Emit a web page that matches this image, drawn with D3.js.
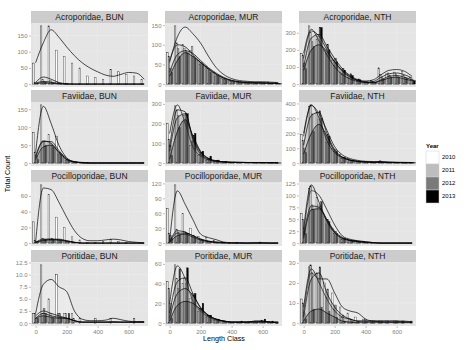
<!DOCTYPE html>
<html>
<head>
<style>
  body { margin: 0; background: #fff; }
  svg { font-family: "Liberation Sans", Arial, sans-serif; }
</style>
</head>
<body>
<svg id="svg" width="474" height="350"></svg>
<script src="https://cdn.jsdelivr.net/npm/d3@7"></script>
<script>
const years = ['2010', '2011', '2012', '2013'];
const yearColors = ['#ffffff', '#bdbdbd', '#7a7a7a', '#000000'];
const families = ['Acroporidae', 'Faviidae', 'Pocilloporidae', 'Poritidae'];
const sites = ['BUN', 'MUR', 'NTH'];
const lengthClass = [0, 50, 100, 150, 200, 250, 300, 350, 400, 450, 500, 550, 600, 650, 700];
const xTicks = [0, 200, 400, 600];

// bar counts per year (2010..2013) and smoothed count curves, one row per year
const acroBUNbars = [
  [65, 180, 180, 105, 85, 65, 50, 25, 20, 15, 45, 38, 30, 25, 15],
  [5, 15, 12, 5, 2, 0, 0, 0, 0, 0, 0, 0, 0, 0, 0],
  [3, 8, 6, 2, 1, 0, 0, 0, 0, 0, 0, 0, 0, 0, 0],
  [2, 4, 3, 1, 0, 0, 0, 0, 0, 0, 0, 0, 0, 0, 0]
];
const acroBUNcurve = [
  [66, 128, 168, 145, 115, 88, 66, 50, 38, 28, 24, 30, 36, 34, 15],
  [5, 22, 15, 5, 1, 0, 0, 0, 0, 0, 0, 0, 0, 0, 0],
  [3, 8, 6, 2, 0, 0, 0, 0, 0, 0, 0, 0, 0, 0, 0],
  [2, 4, 3, 1, 0, 0, 0, 0, 0, 0, 0, 0, 0, 0, 0]
];
const acroMURbars = [
  [80, 148, 100, 85, 60, 45, 30, 15, 8, 5, 5, 3, 3, 5, 3],
  [70, 105, 90, 95, 50, 40, 20, 12, 6, 4, 3, 3, 2, 2, 2],
  [40, 90, 85, 70, 55, 35, 22, 12, 6, 4, 3, 2, 2, 2, 1],
  [30, 70, 80, 65, 50, 30, 20, 10, 5, 3, 2, 2, 1, 1, 1]
];
const acroMURcurve = [
  [55, 120, 145, 128, 104, 71, 42, 24, 14, 9, 7, 6, 6, 5, 4],
  [60, 100, 95, 75, 55, 38, 25, 15, 9, 6, 5, 4, 4, 3, 2],
  [30, 75, 85, 78, 60, 42, 28, 17, 10, 6, 4, 3, 3, 2, 2],
  [20, 60, 80, 70, 55, 40, 25, 15, 8, 5, 3, 3, 2, 2, 1]
];
const acroNTHbars = [
  [180, 340, 260, 200, 140, 70, 40, 25, 15, 20, 95, 60, 70, 75, 40],
  [170, 300, 280, 180, 110, 60, 35, 20, 12, 15, 55, 65, 60, 50, 30],
  [120, 250, 330, 230, 150, 90, 60, 30, 15, 12, 40, 50, 45, 40, 25],
  [90, 220, 330, 200, 130, 80, 50, 25, 10, 8, 30, 40, 40, 35, 20]
];
const acroNTHcurve = [
  [150, 310, 280, 200, 130, 75, 40, 22, 18, 25, 55, 80, 85, 75, 45],
  [180, 320, 250, 170, 100, 55, 30, 15, 10, 15, 40, 60, 65, 55, 35],
  [100, 270, 290, 220, 150, 90, 50, 25, 12, 10, 25, 45, 50, 40, 25],
  [80, 200, 230, 190, 130, 80, 45, 20, 10, 8, 20, 35, 40, 30, 20]
];
const favBUNbars = [
  [85, 162, 80, 75, 20, 5, 2, 1, 0, 0, 0, 0, 0, 0, 0],
  [30, 60, 55, 25, 8, 2, 1, 0, 0, 0, 0, 0, 0, 0, 0],
  [20, 60, 50, 30, 10, 3, 1, 0, 0, 0, 0, 0, 0, 0, 0],
  [10, 50, 45, 25, 8, 2, 1, 0, 0, 0, 0, 0, 0, 0, 0]
];
const favBUNcurve = [
  [30, 158, 110, 50, 15, 4, 2, 1, 1, 1, 1, 1, 1, 1, 1],
  [20, 62, 55, 30, 10, 3, 1, 0, 0, 0, 0, 0, 0, 0, 0],
  [15, 60, 60, 35, 12, 4, 1, 0, 0, 0, 0, 0, 0, 0, 0],
  [10, 45, 50, 30, 10, 3, 1, 0, 0, 0, 0, 0, 0, 0, 0]
];
const favMURbars = [
  [200, 290, 210, 90, 40, 15, 8, 5, 4, 4, 3, 3, 3, 2, 2],
  [120, 270, 240, 110, 45, 20, 10, 6, 4, 3, 3, 3, 2, 2, 1],
  [90, 240, 250, 140, 55, 25, 12, 6, 4, 3, 3, 2, 2, 2, 1],
  [40, 180, 250, 150, 60, 35, 15, 8, 5, 3, 3, 2, 2, 1, 1]
];
const favMURcurve = [
  [150, 295, 200, 80, 35, 15, 8, 5, 4, 4, 3, 3, 3, 2, 2],
  [80, 270, 260, 120, 45, 20, 10, 6, 4, 4, 3, 3, 2, 2, 2],
  [60, 230, 250, 130, 55, 22, 10, 6, 4, 3, 3, 2, 2, 2, 1],
  [20, 160, 220, 140, 60, 25, 12, 6, 4, 3, 3, 2, 2, 2, 1]
];
const favNTHbars = [
  [190, 380, 340, 210, 100, 60, 30, 15, 10, 8, 10, 6, 5, 4, 3],
  [150, 390, 290, 140, 80, 30, 20, 10, 8, 6, 15, 5, 4, 3, 2],
  [100, 330, 350, 190, 90, 40, 20, 12, 8, 6, 6, 4, 3, 3, 2],
  [70, 210, 300, 180, 80, 40, 20, 10, 6, 5, 5, 3, 3, 2, 2]
];
const favNTHcurve = [
  [180, 385, 330, 220, 110, 55, 30, 18, 12, 10, 10, 8, 6, 5, 4],
  [200, 390, 300, 150, 70, 35, 20, 12, 8, 6, 8, 5, 4, 3, 3],
  [120, 320, 340, 200, 90, 40, 20, 12, 8, 6, 6, 4, 3, 3, 2],
  [60, 200, 260, 180, 80, 40, 20, 10, 6, 5, 5, 3, 3, 2, 2]
];
const pocBUNbars = [
  [27, 74, 62, 33, 20, 8, 4, 1, 1, 2, 5, 2, 1, 0, 0],
  [3, 6, 5, 4, 2, 1, 0, 0, 0, 0, 0, 0, 0, 0, 0],
  [2, 5, 6, 4, 2, 1, 0, 0, 0, 0, 0, 0, 0, 0, 0],
  [1, 4, 4, 3, 2, 0, 0, 0, 0, 0, 0, 0, 0, 0, 0]
];
const pocBUNcurve = [
  [2, 70, 68, 52, 33, 16, 6, 3, 3, 4, 5, 4, 2, 1, 0],
  [1, 5, 5, 4, 3, 1, 0, 0, 0, 0, 0, 0, 0, 0, 0],
  [1, 4, 5, 5, 3, 1, 0, 0, 0, 0, 0, 0, 0, 0, 0],
  [1, 3, 4, 4, 2, 1, 0, 0, 0, 0, 0, 0, 0, 0, 0]
];
const pocMURbars = [
  [70, 117, 60, 30, 13, 12, 5, 2, 1, 1, 0, 0, 2, 0, 0],
  [20, 28, 24, 14, 8, 3, 2, 1, 0, 0, 0, 0, 0, 0, 0],
  [15, 22, 22, 15, 8, 3, 2, 1, 0, 0, 0, 0, 0, 0, 0],
  [10, 18, 20, 12, 6, 3, 1, 0, 0, 0, 0, 0, 0, 0, 0]
];
const pocMURcurve = [
  [5, 105, 78, 47, 18, 11, 7, 2, 1, 1, 0, 1, 1, 0, 0],
  [3, 25, 22, 15, 8, 4, 2, 1, 0, 0, 0, 0, 0, 0, 0],
  [2, 20, 20, 15, 8, 4, 2, 1, 0, 0, 0, 0, 0, 0, 0],
  [1, 15, 18, 12, 6, 3, 1, 0, 0, 0, 0, 0, 0, 0, 0]
];
const pocNTHbars = [
  [62, 115, 95, 55, 31, 12, 8, 6, 3, 1, 0, 0, 0, 0, 0],
  [50, 120, 80, 40, 20, 8, 5, 3, 2, 1, 0, 0, 0, 0, 0],
  [30, 80, 78, 50, 25, 10, 5, 3, 1, 0, 0, 0, 0, 0, 0],
  [20, 70, 87, 45, 20, 10, 5, 2, 1, 0, 0, 0, 0, 0, 0]
];
const pocNTHcurve = [
  [20, 110, 100, 70, 38, 15, 8, 5, 3, 1, 0, 0, 0, 0, 0],
  [30, 122, 85, 45, 22, 10, 6, 4, 2, 1, 0, 0, 0, 0, 0],
  [15, 78, 75, 50, 25, 12, 6, 3, 2, 1, 0, 0, 0, 0, 0],
  [10, 70, 72, 48, 22, 10, 5, 3, 1, 0, 0, 0, 0, 0, 0]
];
const porBUNbars = [
  [2, 12, 5, 10, 2, 2, 1, 0, 1, 0, 1, 0, 0, 1, 0],
  [2, 2, 2, 2, 2, 1, 0, 0, 0, 0, 0, 0, 0, 0, 0],
  [1, 3, 1, 2, 1, 0, 0, 0, 0, 0, 0, 0, 0, 0, 0],
  [1, 2, 1, 1, 2, 0, 0, 0, 0, 0, 0, 0, 0, 0, 0]
];
const porBUNcurve = [
  [2, 8, 9, 7.5, 6.5, 2.5, 0.8, 0.5, 0.5, 0.6, 1, 0.7, 0.4, 0.3, 0.3],
  [1.5, 2.5, 2, 1.5, 1, 0.5, 0.2, 0.2, 0.2, 0.2, 0.3, 0.2, 0.2, 0.2, 0.2],
  [1, 2, 1.5, 1.2, 1, 0.5, 0.2, 0.2, 0.2, 0.2, 0.2, 0.2, 0.2, 0.2, 0.2],
  [1, 1.5, 1.2, 1, 1, 0.5, 0.2, 0.2, 0.2, 0.2, 0.2, 0.2, 0.2, 0.2, 0.2]
];
const porMURbars = [
  [42, 59, 40, 25, 12, 6, 3, 2, 1, 1, 1, 1, 2, 1, 1],
  [35, 45, 45, 30, 15, 8, 4, 2, 1, 1, 1, 1, 3, 1, 1],
  [20, 35, 40, 28, 15, 8, 4, 2, 1, 1, 1, 1, 2, 1, 0],
  [5, 55, 56, 30, 20, 8, 4, 2, 1, 2, 1, 1, 4, 2, 0]
];
const porMURcurve = [
  [20, 58, 45, 22, 12, 6, 3, 2, 1, 1, 1, 1, 1, 1, 1],
  [10, 42, 46, 30, 15, 7, 4, 2, 1, 1, 1, 2, 2, 1, 1],
  [5, 30, 35, 28, 16, 8, 4, 2, 1, 1, 1, 1, 1, 1, 0],
  [2, 18, 22, 20, 14, 8, 4, 2, 1, 1, 1, 2, 2, 1, 0]
];
const porNTHbars = [
  [12, 28, 25, 20, 15, 8, 5, 3, 2, 1, 1, 1, 1, 1, 0],
  [10, 29, 22, 13, 7, 3, 2, 1, 2, 1, 1, 1, 1, 1, 1],
  [5, 25, 28, 17, 9, 4, 2, 1, 1, 1, 1, 0, 1, 0, 0],
  [2, 7, 8, 6, 3, 1, 1, 0, 0, 0, 0, 0, 0, 0, 0]
];
const porNTHcurve = [
  [5, 25, 22, 22, 15, 8, 6, 5, 2, 1, 1, 1, 1, 0.5, 0.5],
  [8, 27, 20, 12, 6, 3, 2, 1, 1, 1, 1, 1, 1, 1, 0.5],
  [3, 22, 25, 15, 8, 4, 2, 1, 1, 1, 0.5, 0.5, 0.5, 0.5, 0.5],
  [1, 6, 7, 5, 3, 1, 0.5, 0.2, 0.2, 0.2, 0.2, 0.2, 0.2, 0.2, 0.2]
];

const yTicks = [
  [[0, 50, 100, 150], [0, 50, 100, 150], [0, 100, 200, 300]],
  [[0, 50, 100, 150], [0, 100, 200, 300], [0, 100, 200, 300, 400]],
  [[0, 20, 40, 60], [0, 30, 60, 90, 120], [0, 25, 50, 75, 100, 125]],
  [[0, 2.5, 5, 7.5, 10, 12.5], [0, 20, 40, 60], [0, 10, 20, 30]]
];

const panelBars = [
  [acroBUNbars, acroMURbars, acroNTHbars],
  [favBUNbars, favMURbars, favNTHbars],
  [pocBUNbars, pocMURbars, pocNTHbars],
  [porBUNbars, porMURbars, porNTHbars]
];
const panelCurves = [
  [acroBUNcurve, acroMURcurve, acroNTHcurve],
  [favBUNcurve, favMURcurve, favNTHcurve],
  [pocBUNcurve, pocMURcurve, pocNTHcurve],
  [porBUNcurve, porMURcurve, porNTHcurve]
];

// layout
const colX = [31, 165, 299];
const rowY = [11, 90, 170, 250];
const panelW = 117;
const stripH = 12;
const panelH = 64;
const binW = 50;
const subW = binW / 5;

const svg = d3.select('#svg');
const x = d3.scaleLinear().domain([-30, 725]).range([0, panelW]);

families.forEach((fam, r) => {
  sites.forEach((site, c) => {
    const left = colX[c];
    const top = rowY[r] + stripH;
    const g = svg.append('g').attr('transform', `translate(${left}, 0)`);

    const bars = panelBars[r][c];
    const curves = panelCurves[r][c];
    const maxV = d3.max(bars.concat(curves), (row) => d3.max(row));
    const y = d3.scaleLinear()
      .domain([-0.05 * maxV, 1.05 * maxV])
      .range([top + panelH, top]);

    // strip
    g.append('rect')
      .attr('x', 0).attr('y', rowY[r])
      .attr('width', panelW).attr('height', stripH)
      .attr('fill', '#cccccc');
    g.append('text')
      .attr('x', panelW / 2).attr('y', rowY[r] + stripH / 2 + 0.5)
      .attr('text-anchor', 'middle')
      .attr('dominant-baseline', 'middle')
      .attr('font-size', 8.5)
      .attr('fill', '#1a1a1a')
      .text(`${fam}, ${site}`);

    // panel background and faint grid
    g.append('rect')
      .attr('x', 0).attr('y', top)
      .attr('width', panelW).attr('height', panelH)
      .attr('fill', '#e5e5e5');
    const ticks = yTicks[r][c];
    g.selectAll('.xgrid').data(xTicks).join('line')
      .attr('x1', (d) => x(d)).attr('x2', (d) => x(d))
      .attr('y1', top).attr('y2', top + panelH)
      .attr('stroke', '#efefef').attr('stroke-width', 0.4);
    g.selectAll('.ygrid').data(ticks).join('line')
      .attr('x1', 0).attr('x2', panelW)
      .attr('y1', (d) => y(d)).attr('y2', (d) => y(d))
      .attr('stroke', '#efefef').attr('stroke-width', 0.4);

    // y axis
    const fmt = ticks.some((t) => t % 1 !== 0) ? d3.format('.1f') : d3.format('d');
    const yAxis = g.append('g')
      .call(d3.axisLeft(y).tickValues(ticks).tickSize(2).tickPadding(1.5).tickFormat(fmt));
    yAxis.select('.domain').remove();
    yAxis.selectAll('line').attr('stroke', '#7f7f7f').attr('stroke-width', 0.5);
    yAxis.selectAll('text').attr('font-size', 6).attr('fill', '#7f7f7f')
      .attr('font-family', '"Liberation Sans", Arial, sans-serif');

    // bars, dodged by year
    years.forEach((yr, i) => {
      g.selectAll(null).data(bars[i]).join('rect')
        .attr('x', (d, k) => x(lengthClass[k] + (i - 1.5) * subW - subW / 2))
        .attr('width', x(subW) - x(0))
        .attr('y', (d) => y(d))
        .attr('height', (d) => y(0) - y(d))
        .attr('fill', yearColors[i])
        .attr('stroke', '#000')
        .attr('stroke-width', 0.4);
    });

    // smoothed count curves
    const area = d3.area()
      .x((d, k) => x(lengthClass[k]))
      .y0(y(0))
      .y1((d) => y(d))
      .curve(d3.curveMonotoneX);
    const line = d3.line()
      .x((d, k) => x(lengthClass[k]))
      .y((d) => y(d))
      .curve(d3.curveMonotoneX);
    years.forEach((yr, i) => {
      g.append('path')
        .attr('d', area(curves[i]))
        .attr('fill', yearColors[i])
        .attr('fill-opacity', 0.2);
      g.append('path')
        .attr('d', line(curves[i]))
        .attr('fill', 'none')
        .attr('stroke', '#000')
        .attr('stroke-width', 0.7);
    });

    // x axis on bottom row
    if (r === families.length - 1) {
      const xAxis = g.append('g')
        .attr('transform', `translate(0, ${top + panelH})`)
        .call(d3.axisBottom(x).tickValues(xTicks).tickSize(2).tickPadding(1.5));
      xAxis.select('.domain').remove();
      xAxis.selectAll('line').attr('stroke', '#7f7f7f').attr('stroke-width', 0.5);
      xAxis.selectAll('text').attr('font-size', 6).attr('fill', '#7f7f7f')
        .attr('font-family', '"Liberation Sans", Arial, sans-serif');
    }
  });
});

// axis titles
svg.append('text')
  .attr('transform', 'translate(8, 174) rotate(-90)')
  .attr('text-anchor', 'middle')
  .attr('dominant-baseline', 'middle')
  .attr('font-size', 7.2)
  .attr('fill', '#000000')
  .text('Total Count');
svg.append('text')
  .attr('x', 224).attr('y', 341)
  .attr('text-anchor', 'middle')
  .attr('font-size', 7.2)
  .attr('fill', '#000000')
  .text('Length Class');

// legend
const legend = svg.append('g').attr('transform', 'translate(426, 143)');
legend.append('text')
  .attr('x', 0).attr('y', 5)
  .attr('font-size', 6)
  .attr('font-weight', 'bold')
  .attr('fill', '#000000')
  .text('Year');
years.forEach((yr, i) => {
  legend.append('rect')
    .attr('x', 0).attr('y', 8 + i * 13)
    .attr('width', 13).attr('height', 13)
    .attr('fill', yearColors[i])
    .attr('stroke', '#d0d0d0').attr('stroke-width', 0.5);
  legend.append('text')
    .attr('x', 16).attr('y', 8 + i * 13 + 6.5)
    .attr('dominant-baseline', 'middle')
    .attr('font-size', 6)
    .attr('fill', '#000000')
    .text(yr);
});
</script>
</body>
</html>
